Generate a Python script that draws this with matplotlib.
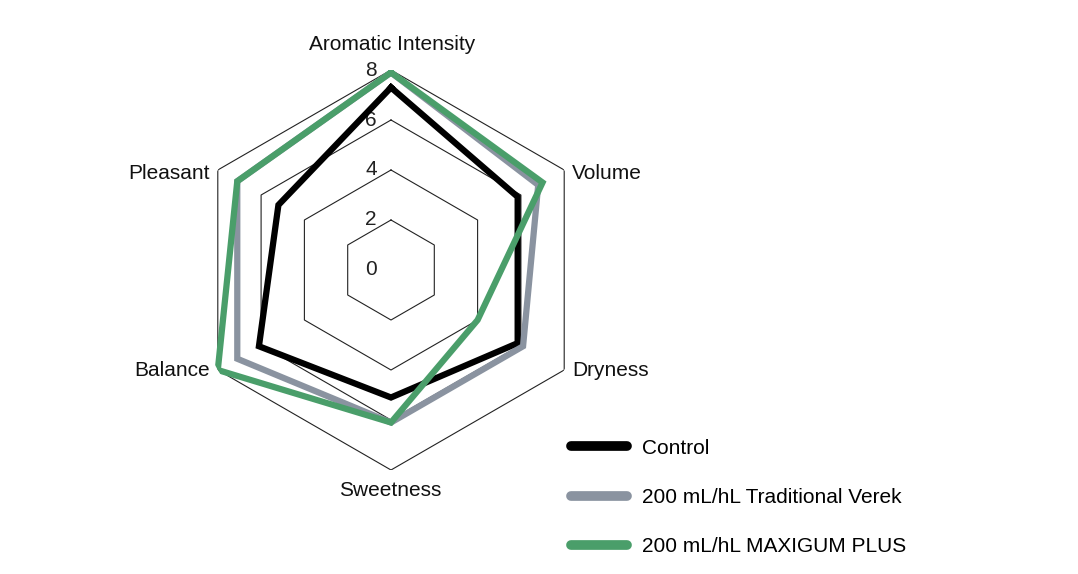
import numpy as np
import matplotlib
matplotlib.use("Agg")
from matplotlib import pyplot as plt
from matplotlib.transforms import offset_copy

categories = ["Aromatic Intensity", "Volume", "Dryness", "Sweetness", "Balance", "Pleasant"]
control = [7.3, 5.85, 5.85, 5.1, 6.1, 5.2]
verek = [7.9, 6.8, 6.1, 6.1, 7.1, 7.1]
maxigum = [7.9, 7.0, 4.0, 6.1, 8.0, 7.1]
series_names = ["Control", "200 mL/hL Traditional Verek", "200 mL/hL MAXIGUM PLUS"]
rings = [2, 4, 6, 8]

fam = ["Liberation Sans", "DejaVu Sans"]
W, H = 1078, 574
fig = plt.figure(figsize=(W / 100, H / 100), dpi=100)
cx, cy, R = 391, 270, 200
ax = fig.add_axes([(cx - R) / W, (H - cy - R) / H, 2 * R / W, 2 * R / H], projection="polar")
ax.set_theta_offset(np.pi / 2)
ax.set_theta_direction(-1)
ax.set_ylim(0, 8)
ax.grid(False)
ax.spines["polar"].set_visible(False)
ax.set_xticks([])
ax.set_yticks([])
ax.patch.set_visible(False)

theta = np.linspace(0, 2 * np.pi, len(categories), endpoint=False)
closed = np.append(theta, theta[0])
for r in rings:
    ax.plot(closed, [r] * len(closed), color="#222222", lw=0.8, zorder=1)

colors = ["#000000", "#8a93a0", "#4a9e6a"]
for vals, name, c in zip([control, verek, maxigum], series_names, colors):
    ax.plot(closed, vals + vals[:1], color=c, lw=4.5, label=name, zorder=3, solid_joinstyle="miter")

tr = offset_copy(ax.transData, fig=fig, x=-20, y=0, units="dots")
for r in [0] + rings:
    ax.text(0, r, str(r), transform=tr, ha="center", va="center",
            fontsize=15, family=fam, color="#222222", zorder=2)

label_pos = [(392, 45, "center"), (572, 173, "left"), (572, 370, "left"),
             (390, 490, "center"), (210, 370, "right"), (210, 173, "right")]
for (x, y, ha), name in zip(label_pos, categories):
    fig.text(x / W, 1 - y / H, name, ha=ha, va="center", fontsize=15, family=fam, color="#111111")

leg = fig.legend(loc="upper left", bbox_to_anchor=(552 / W, 1 - 420 / H), frameon=False,
                 prop={"family": fam, "size": 15}, handlelength=2.7, handletextpad=0.7,
                 labelspacing=1.45)
for line in leg.get_lines():
    line.set_linewidth(7)
    line.set_solid_capstyle("round")

fig.savefig("out.png", dpi=100)
